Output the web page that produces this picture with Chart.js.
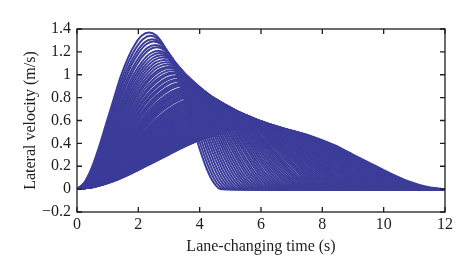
<!DOCTYPE html>
<html>
<head>
<meta charset="utf-8">
<script src="https://cdn.jsdelivr.net/npm/chart.js@4.4.1/dist/chart.umd.min.js"></script>
<style>
  html, body { margin: 0; padding: 0; background: #fff; }
  #wrap { width: 474px; height: 277px; }
</style>
</head>
<body>
<div id="wrap"><canvas id="lateral"></canvas></div>
<script>
const endTimes = [
  4.7, 4.8, 4.9, 5.0, 5.1, 5.2, 5.3, 5.4, 5.5, 5.6, 5.7, 5.8, 5.9, 6.0, 6.1,
  6.2, 6.3, 6.4, 6.5, 6.6, 6.7, 6.8, 6.9, 7.0, 7.1, 7.2, 7.3, 7.4, 7.5, 7.6,
  7.7, 7.8, 7.9, 8.0, 8.1, 8.2, 8.3, 8.4, 8.5, 8.6, 8.7, 8.8, 8.9, 9.0, 9.1,
  9.2, 9.3, 9.4, 9.5, 9.6, 9.7, 9.8, 9.9, 10.0, 10.1, 10.2, 10.3, 10.4, 10.5,
  10.6, 10.7, 10.8, 10.9, 11.0, 11.1, 11.2, 11.3, 11.4, 11.5, 11.6, 11.7, 11.8,
  11.9, 12.0
];

// Peak lateral velocity (m/s) of each curve
const peakValues = [
  1.37, 1.34, 1.31, 1.29, 1.26, 1.24, 1.21, 1.19, 1.17, 1.15, 1.13, 1.11, 1.09, 1.07, 1.06,
  1.04, 1.02, 1.01, 0.99, 0.98, 0.96, 0.95, 0.93, 0.92, 0.91, 0.89, 0.88, 0.87, 0.86, 0.85,
  0.84, 0.83, 0.82, 0.80, 0.79, 0.79, 0.78, 0.77, 0.76, 0.75, 0.74, 0.73, 0.72, 0.72, 0.71,
  0.70, 0.69, 0.69, 0.68, 0.67, 0.66, 0.66, 0.65, 0.64, 0.64, 0.63, 0.63, 0.62, 0.61,
  0.61, 0.60, 0.60, 0.59, 0.59, 0.58, 0.57, 0.57, 0.56, 0.56, 0.56, 0.55, 0.55,
  0.54, 0.54
];

// Shape of one curve: fraction of its duration -> fraction of its peak
const profileAt    = [0, 0.05, 0.10, 0.15, 0.20, 0.25, 0.30, 0.35, 0.40, 0.45, 0.50,
                      0.55, 0.60, 0.65, 0.70, 0.75, 0.80, 0.85, 0.90, 0.95, 1];
const profileValue = [0, 0.04, 0.13, 0.26, 0.41, 0.56, 0.71, 0.83, 0.92, 0.98, 1,
                      0.98, 0.92, 0.83, 0.71, 0.56, 0.41, 0.26, 0.13, 0.04, 0];

const xTicks = [0, 2, 4, 6, 8, 10, 12];
const yTicks = [-0.2, 0, 0.2, 0.4, 0.6, 0.8, 1, 1.2, 1.4];

const LINE  = "#3c3c99";
const INK   = "#1e1e1e";
const FONT  = "'Liberation Serif', 'DejaVu Serif', serif";

// ── DATASETS ───────────────────────────────────────────────
const datasets = endTimes.map((T, i) => {
  const pts = profileAt.map((f, j) => ({ x: T * f, y: peakValues[i] * profileValue[j] }));
  if (T < 12) pts.push({ x: 12, y: 0 });
  return {
    data:                   pts,
    borderColor:            LINE,
    borderWidth:            2,
    pointRadius:            0,
    fill:                   false,
    cubicInterpolationMode: "monotone",
  };
});

// ── BOX FRAME WITH INWARD TICKS ───────────────────────────
const framePlugin = {
  id: "frame",
  afterDraw(chart) {
    const { ctx, chartArea: a, scales: { x, y } } = chart;
    const L = 5;
    ctx.save();
    ctx.strokeStyle = INK;
    ctx.lineWidth = 1.3;
    ctx.strokeRect(a.left, a.top, a.right - a.left, a.bottom - a.top);
    ctx.beginPath();
    xTicks.forEach(v => {
      const px = x.getPixelForValue(v);
      ctx.moveTo(px, a.bottom); ctx.lineTo(px, a.bottom - L);
      ctx.moveTo(px, a.top);    ctx.lineTo(px, a.top + L);
    });
    yTicks.forEach(v => {
      const py = y.getPixelForValue(v);
      ctx.moveTo(a.left, py);  ctx.lineTo(a.left + L, py);
      ctx.moveTo(a.right, py); ctx.lineTo(a.right - L, py);
    });
    ctx.stroke();
    ctx.restore();
  },
};

new Chart(document.getElementById("lateral"), {
  type: "line",
  data: { datasets },
  options: {
    responsive:          true,
    maintainAspectRatio: false,
    animation:           false,
    events:              [],
    layout: { padding: { top: 29, right: 29, left: 0, bottom: 0 } },
    plugins: {
      legend:  { display: false },
      tooltip: { enabled: false },
    },
    scales: {
      x: {
        type: "linear",
        min:  0,
        max:  12,
        afterFit: s => { s.height = 65; },
        afterBuildTicks: s => { s.ticks = xTicks.map(v => ({ value: v })); },
        grid:   { display: false, drawTicks: false },
        border: { display: false },
        ticks:  { color: INK, padding: 3, font: { family: FONT, size: 16 }, maxRotation: 0 },
        title: {
          display: true,
          text:    "Lane-changing time (s)",
          color:   INK,
          font:    { family: FONT, size: 16 },
          padding: { top: 0, bottom: 21 },
        },
      },
      y: {
        type: "linear",
        min:  -0.2,
        max:  1.4,
        afterFit: s => { s.width = 77; },
        afterBuildTicks: s => { s.ticks = yTicks.map(v => ({ value: v })); },
        grid:   { display: false, drawTicks: false },
        border: { display: false },
        ticks: {
          color:    INK,
          padding:  6,
          font:     { family: FONT, size: 16 },
          callback: v => (Math.round(v * 10) / 10).toString().replace("-", "\u2212"),
        },
        title: {
          display: true,
          text:    "Lateral velocity (m/s)",
          color:   INK,
          font:    { family: FONT, size: 16 },
          padding: { top: 21, bottom: 0 },
        },
      },
    },
  },
  plugins: [framePlugin],
});
</script>
</body>
</html>
